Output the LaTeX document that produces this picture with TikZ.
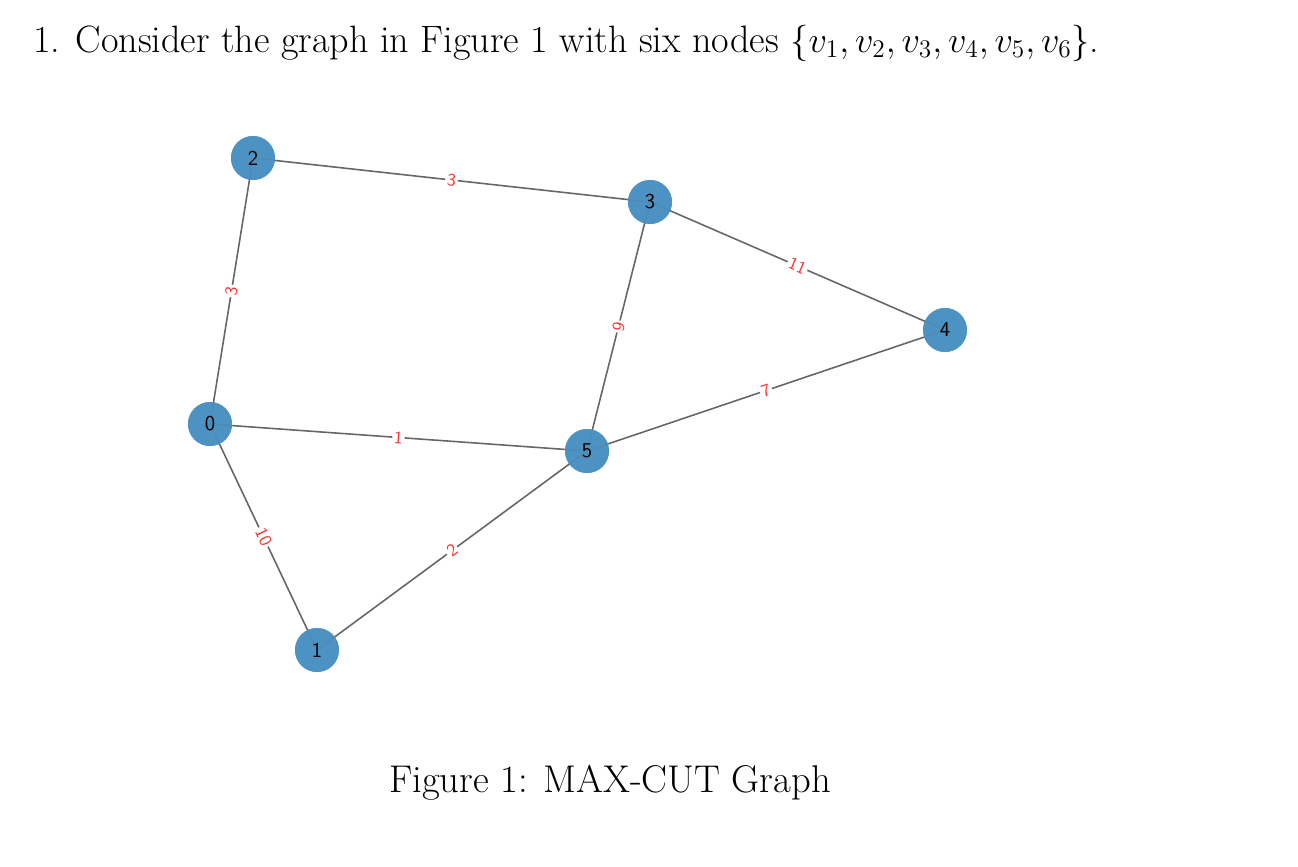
\documentclass[tikz,border=0pt]{standalone}
\usepackage{xcolor}
\definecolor{nodeblue}{HTML}{4C92C3}
\definecolor{lblred}{HTML}{FF3030}
\begin{document}
\begin{tikzpicture}[x=0.02cm,y=-0.02cm,
  vtx/.style={circle,fill=nodeblue,minimum size=0.88cm,inner sep=0pt,font=\sffamily\fontsize{12}{13}\selectfont},
  edge/.style={draw=black!60,line width=0.9pt},
  wlbl/.style={fill=white,inner sep=1pt,text=lblred,font=\sffamily\fontsize{10}{11}\selectfont,sloped,midway}]
\useasboundingbox (0,0) rectangle (1298,866);
\node[anchor=base west,font=\fontsize{21.7}{26}\selectfont] (title) at (27,52) {1. Consider the graph in Figure 1 with six nodes $\{v_1,v_2,v_3,v_4,v_5,v_6\}$.};
\node[font=\fontsize{22}{26}\selectfont] (cap) at (610,783) {Figure 1: MAX-CUT Graph};
\node[vtx] (n2) at (253,158) {2};
\node[vtx] (n3) at (650,202) {3};
\node[vtx] (n4) at (945,330) {4};
\node[vtx] (n0) at (210,424) {0};
\node[vtx] (n5) at (587,451) {5};
\node[vtx] (n1) at (317,650) {1};
\draw[edge] (n2.center) -- node[wlbl]{3} (n3.center);
\draw[edge] (n0.center) -- node[wlbl]{3} (n2.center);
\draw[edge] (n3.center) -- node[wlbl]{11} (n4.center);
\draw[edge] (n5.center) -- node[wlbl]{9} (n3.center);
\draw[edge] (n5.center) -- node[wlbl]{7} (n4.center);
\draw[edge] (n0.center) -- node[wlbl]{1} (n5.center);
\draw[edge] (n0.center) -- node[wlbl]{10} (n1.center);
\draw[edge] (n1.center) -- node[wlbl]{2} (n5.center);
\foreach \n/\t in {n2/2,n3/3,n4/4,n0/0,n5/5,n1/1}{
  \node[vtx,fill opacity=0.85,text opacity=1] at (\n) {\t};
}
\end{tikzpicture}
\end{document}
